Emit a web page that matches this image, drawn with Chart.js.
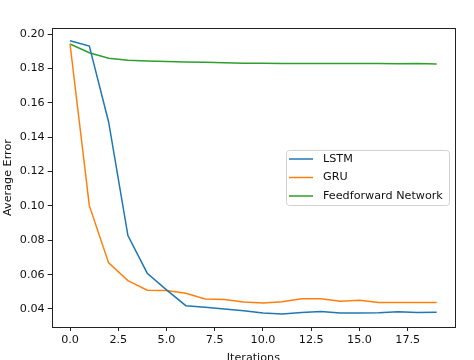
<!DOCTYPE html>
<html><head><meta charset="utf-8">
<script src="https://cdn.jsdelivr.net/npm/chart.js@4"></script>
<style>html,body{margin:0;padding:0;background:#fff}#wrap{width:474px;height:360px;position:relative}</style>
</head><body><div id="wrap"><canvas id="c" width="474" height="360"></canvas></div>
<script>
const iterations = [0,1,2,3,4,5,6,7,8,9,10,11,12,13,14,15,16,17,18,19];
const lstm = [0.1961,0.1930,0.1488,0.0827,0.0608,0.0511,0.0419,0.0410,0.0400,0.0390,0.0377,0.0371,0.0380,0.0385,0.0377,0.0376,0.0378,0.0384,0.0380,0.0381];
const gru = [0.1942,0.1001,0.0668,0.0565,0.0509,0.0508,0.0491,0.0458,0.0455,0.0441,0.0435,0.0442,0.0460,0.0459,0.0445,0.0450,0.0438,0.0437,0.0438,0.0437];
const ffn = [0.1942,0.1891,0.1859,0.1847,0.1843,0.1840,0.1837,0.1835,0.1833,0.1830,0.1830,0.1829,0.1828,0.1829,0.1829,0.1829,0.1828,0.1827,0.1829,0.1825];
const xTicks = [0,2.5,5,7.5,10,12.5,15,17.5];
const yTicks = [0.04,0.06,0.08,0.10,0.12,0.14,0.16,0.18,0.20];
const seriesNames = ['LSTM','GRU','Feedforward Network'];
const colors = ['#1f77b4','#ff7f0e','#2ca02c'];

const toPts = arr => arr.map((v,i)=>({x:iterations[i], y:v}));
const FONT = 'DejaVu Sans';
const FS = 11.2;

const framePlugin = {
  id:'frame',
  afterDraw(chart){
    const {ctx, chartArea:a} = chart;
    ctx.save();
    ctx.strokeStyle = '#222';
    ctx.lineWidth = 1;
    ctx.strokeRect(Math.round(a.left)+0.5, Math.round(a.top)+0.5, Math.round(a.right-a.left), Math.round(a.bottom-a.top));
    // legend
    const lx=286.5, ly=150.5, lw=163, lh=55;
    ctx.globalAlpha = 0.8;
    ctx.fillStyle='#fff';
    ctx.beginPath();
    if (ctx.roundRect) ctx.roundRect(lx,ly,lw,lh,3); else ctx.rect(lx,ly,lw,lh);
    ctx.fill();
    ctx.globalAlpha = 1;
    ctx.strokeStyle='#d0d0d0';
    ctx.stroke();
    ctx.font = FS+'px "'+FONT+'"';
    ctx.textBaseline='middle';
    ctx.fillStyle='#111';
    const ys=[159,177.5,196];
    seriesNames.forEach((n,i)=>{
      ctx.strokeStyle=colors[i]; ctx.lineWidth=1.5;
      ctx.beginPath(); ctx.moveTo(289,ys[i]); ctx.lineTo(313,ys[i]); ctx.stroke();
      ctx.fillText(n,323,ys[i]);
    });
    ctx.restore();
  }
};

new Chart(document.getElementById('c'), {
  type:'line',
  data:{datasets:[
    {label:seriesNames[0], data:toPts(lstm), borderColor:colors[0], borderWidth:1.5, pointRadius:0, tension:0, fill:false},
    {label:seriesNames[1], data:toPts(gru), borderColor:colors[1], borderWidth:1.5, pointRadius:0, tension:0, fill:false},
    {label:seriesNames[2], data:toPts(ffn), borderColor:colors[2], borderWidth:1.5, pointRadius:0, tension:0, fill:false}
  ]},
  options:{
    responsive:false, animation:false,
    layout:{padding:{left:0,top:28,right:19,bottom:0}},
    plugins:{legend:{display:false}, tooltip:{enabled:false}},
    scales:{
      x:{type:'linear', min:-0.95, max:19.95,
        afterBuildTicks:s=>{s.ticks = xTicks.map(v=>({value:v}));},
        afterFit:s=>{s.height=33;},
        ticks:{callback:v=>v.toFixed(1), color:'#111', font:{family:FONT,size:FS}, padding:2, maxRotation:0, autoSkip:false},
        grid:{drawOnChartArea:false, tickLength:4, color:'#222', tickColor:'#222'},
        border:{display:false},
        title:{display:true, text:'Iterations', color:'#111', font:{family:FONT,size:FS}, padding:{top:0,bottom:-5}}
      },
      y:{type:'linear', min:0.0295, max:0.2035,
        afterBuildTicks:s=>{s.ticks = yTicks.map(v=>({value:v}));},
        afterFit:s=>{s.width=51.7;},
        ticks:{callback:v=>v.toFixed(2), color:'#111', font:{family:FONT,size:FS}, padding:3, autoSkip:false},
        grid:{drawOnChartArea:false, tickLength:4, color:'#222', tickColor:'#222'},
        border:{display:false},
        title:{display:true, text:'Average Error', color:'#111', font:{family:FONT,size:FS}, padding:{top:1,bottom:0}}
      }
    }
  },
  plugins:[framePlugin]
});
</script></body></html>
